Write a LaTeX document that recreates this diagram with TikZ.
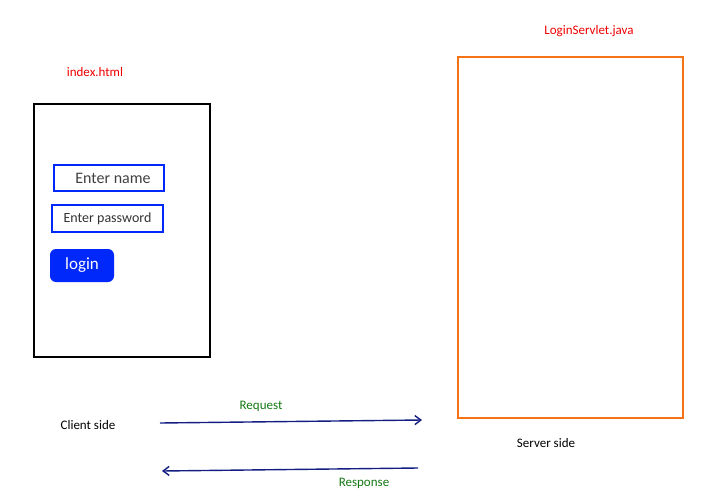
\documentclass[tikz,border=0pt]{standalone}
\usepackage{fontspec}
\setmainfont{Carlito}
\usetikzlibrary{arrows.meta}
\definecolor{myred}{RGB}{240,0,0}
\definecolor{myblue}{RGB}{0,40,250}
\definecolor{myorange}{RGB}{245,115,20}
\definecolor{mynavy}{RGB}{20,30,130}
\definecolor{mygreen}{RGB}{20,120,20}
\begin{document}
\begin{tikzpicture}[x=1pt,y=-1pt,
  lbl/.style={font=\fontsize{13}{15}\selectfont},
  field/.style={draw=myblue,line width=1.6pt,inner sep=0},
  arr/.style={draw=mynavy,line width=1.4pt,-{Straight Barb[length=6pt,width=9pt]}}]
\useasboundingbox (0,0) rectangle (725,503);
\node[lbl,text=myred] (t1) at (95,72) {index.html};
\node[draw=black,line width=1.6pt,minimum width=176pt,minimum height=253pt,inner sep=0] (page) at (122,230.5) {};
\node[field,minimum width=110pt,minimum height=26pt,font=\fontsize{16}{18}\selectfont,text=black!75] (n) at (109,178) {\hspace{8pt}Enter name};
\node[field,minimum width=111pt,minimum height=27pt,font=\fontsize{14}{16}\selectfont,text=black!80] (p) at (107.5,218.5) {Enter password};
\node[fill=myblue,rounded corners=6pt,minimum width=64pt,minimum height=33pt,inner sep=0,text=white,font=\fontsize{17}{19}\selectfont] (b) at (82,265.5) {login};
\node[lbl,text=myred] (t2) at (589,31) {LoginServlet.java};
\node[draw=myorange,line width=1.6pt,minimum width=225pt,minimum height=361pt,inner sep=0] (srv) at (570.5,237.5) {};
\node[lbl] (cs) at (88,425) {Client side};
\node[lbl] (ss) at (546,443) {Server side};
\coordinate (r1) at (160,423);
\coordinate (r2) at (422,420);
\coordinate (s1) at (418,468);
\coordinate (s2) at (162,471);
\draw[arr] (r1) -- (r2);
\draw[arr] (s1) -- (s2);
\node[lbl,text=mygreen] (rq) at (261,406) {Request};
\node[lbl,text=mygreen] (rs) at (364,483) {Response};
\end{tikzpicture}
\end{document}
